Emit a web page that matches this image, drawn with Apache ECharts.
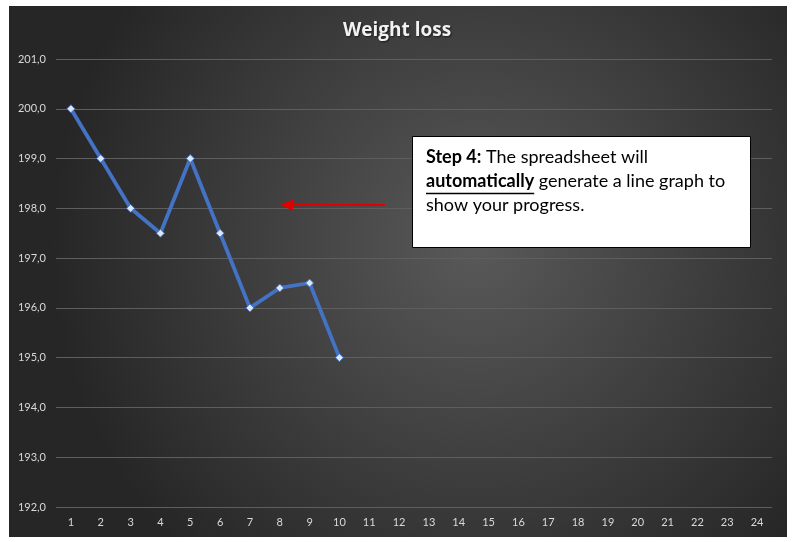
<!DOCTYPE html>
<html><head><meta charset="utf-8">
<script src="https://cdn.jsdelivr.net/npm/echarts@6/dist/echarts.min.js"></script>
<style>html,body{margin:0;padding:0;background:#fff;}#c{width:794px;height:542px;}</style>
</head><body><div id="c"></div>
<script>
var categories = ['1','2','3','4','5','6','7','8','9','10','11','12','13','14','15','16','17','18','19','20','21','22','23','24'];
var weights = [200.0, 199.0, 198.0, 197.5, 199.0, 197.5, 196.0, 196.4, 196.5, 195.0];
var yTicks = {min: 192, max: 201, interval: 1};
var titleText = 'Weight loss';
var noteBold = 'Step 4:';
var noteLine1 = ' The spreadsheet will';
var noteUnder = 'automatically';
var noteLine2 = ' generate a line graph to';
var noteLine3 = 'show your progress.';

var font = 'Lato, "Open Sans", sans-serif';
var fs = 18;
var cv = document.createElement('canvas').getContext('2d');
cv.font = 'bold ' + fs + 'px ' + font;
var underW = cv.measureText(noteUnder).width;

var chart = echarts.init(document.getElementById('c'), null, {renderer: 'canvas'});
chart.setOption({
  animation: false,
  backgroundColor: '#fff',
  title: {text: titleText, left: 'center', top: 16, textStyle: {color: '#f2f2f2', fontSize: 19, fontWeight: 'bold', fontFamily: '"Open Sans"',
    textShadowColor: 'rgba(0,0,0,0.6)', textShadowBlur: 2, textShadowOffsetX: 1, textShadowOffsetY: 1}},
  grid: {left: 56, right: 22, top: 59, bottom: 35},
  xAxis: {type: 'category', data: categories, boundaryGap: true,
    axisLine: {show: false}, axisTick: {show: false},
    axisLabel: {color: '#d9d9d9', fontSize: 11, margin: 10, fontFamily: font}},
  yAxis: {type: 'value', min: yTicks.min, max: yTicks.max, interval: yTicks.interval,
    axisLabel: {color: '#d9d9d9', fontSize: 11, margin: 10, fontFamily: font, formatter: function(v){return v.toFixed(1).replace('.', ',');}},
    splitLine: {lineStyle: {color: '#5e5e5e', width: 1}}, axisLine: {show: false}, axisTick: {show: false}},
  series: [{type: 'line', data: weights, symbol: 'diamond', symbolSize: 8,
    lineStyle: {color: '#4472c4', width: 3.8},
    itemStyle: {color: '#dce6f5', borderColor: '#4472c4', borderWidth: 1},
    z: 5}],
  graphic: [
    {type: 'rect', z: -10, silent: true, shape: {x: 9, y: 6, width: 778, height: 531},
      style: {fill: {type: 'radial', x: 0.6, y: 0.45, r: 0.8, colorStops: [{offset: 0, color: '#595959'}, {offset: 1, color: '#262626'}]}}},
    {type: 'line', z: 10, shape: {x1: 385, y1: 205, x2: 290, y2: 205}, style: {stroke: '#e00000', lineWidth: 2.2}},
    {type: 'polygon', z: 10, shape: {points: [[280, 205], [293, 199.5], [293, 210.5]]}, style: {fill: '#e00000'}},
    {type: 'rect', z: 10, shape: {x: 412.5, y: 136.5, width: 338, height: 111}, style: {fill: '#fff', stroke: '#000', lineWidth: 1}},
    {type: 'text', z: 11, x: 426, y: 145, style: {
      text: '{b|' + noteBold + '}{n|' + noteLine1 + '}\n{b|' + noteUnder + '}{n|' + noteLine2 + '}\n{n|' + noteLine3 + '}',
      rich: {b: {fontWeight: 'bold', fontSize: fs, fontFamily: font, fill: '#000', lineHeight: 24},
             n: {fontSize: fs, fontFamily: font, fill: '#000', lineHeight: 24}},
      fill: '#000'}},
    {type: 'line', z: 11, shape: {x1: 426, y1: 193.5, x2: 426 + underW, y2: 193.5}, style: {stroke: '#000', lineWidth: 1.6}}
  ]
});
</script></body></html>
